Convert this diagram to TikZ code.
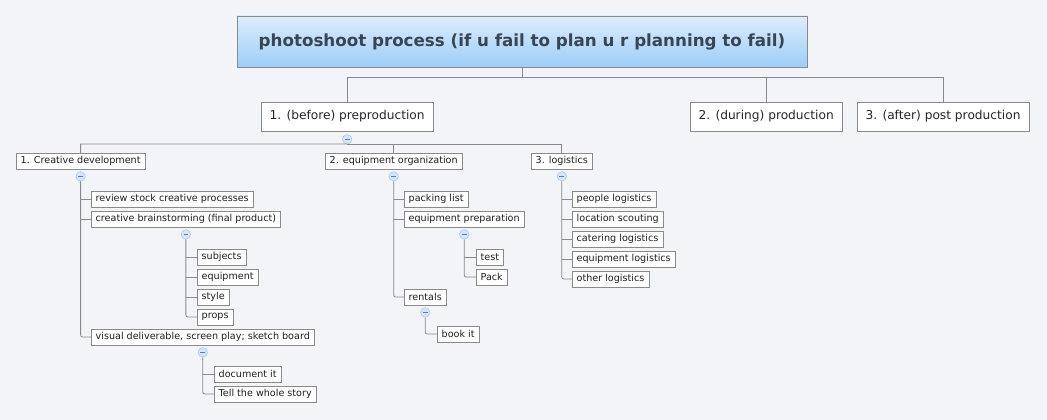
\documentclass[tikz,border=0pt]{standalone}
\usepackage{fontspec}
\setmainfont{DejaVu Sans}
\usetikzlibrary{positioning}
\definecolor{bg}{HTML}{F3F4F8}
\definecolor{edge}{HTML}{8A8A8A}
\definecolor{rootink}{HTML}{3A4552}
\definecolor{roottop}{HTML}{DCEDFC}
\definecolor{rootbot}{HTML}{9DCDF8}
\definecolor{foldfill}{HTML}{D5E6F8}
\definecolor{foldline}{HTML}{9DC1E8}

\begin{document}
\begin{tikzpicture}[x=1pt,y=-1pt,
  root/.style={draw=edge,top color=roottop,bottom color=rootbot,text=rootink,
    font=\fontsize{16.7}{20}\selectfont\bfseries,minimum width=570pt,minimum height=51pt},
  topic/.style={draw=edge,fill=white,text=black!85,font=\fontsize{12.2}{14}\selectfont,
    inner xsep=8.5pt,inner ysep=0pt,minimum height=29.5pt,anchor=west},
  sub/.style={draw=edge,fill=white!96!bg,text=black!88,font=\fontsize{9.6}{11}\selectfont,
    inner xsep=4.5pt,inner ysep=0pt,minimum height=15.5pt,anchor=west},
  fold/.style={circle,draw=foldline,fill=foldfill,inner sep=0pt,minimum size=9.5pt,
    path picture={\draw[foldline!60!blue,line width=0.7pt]
      ([xshift=2.4pt]path picture bounding box.west) -- ([xshift=-2.4pt]path picture bounding box.east);}},
  bar/.style={draw=edge,line width=0.8pt},
  link/.style={draw=edge,line width=0.8pt,rounded corners=2pt}]

\fill[bg] (0,0) rectangle (1047,420);
\useasboundingbox (0,0) rectangle (1047,420);

% main topic and the three phases
\node[root] (root) at (522,41.5) {photoshoot process (if u fail to plan u r planning to fail)};
\node[topic] (pre) at (261,116.5) {1. (before) preproduction};
\node[topic] (dur) at (690,116.5) {2. (during) production};
\node[topic] (post) at (857,116.5) {3. (after) post production};
\coordinate (h) at (522,77);
\draw[bar] (root) -- (h) -| (pre.north);
\draw[bar] (h) -| (dur.north);
\draw[bar] (h) -| (post.north);

% preproduction
\node[fold,below=3pt of pre] (f0) {};
\node[sub] (cd) at (16,161) {1. Creative development};
\node[sub] (eq) at (325,161) {2. equipment organization};
\node[sub] (lg) at (531,161) {3. logistics};
\coordinate (h0) at (347,144);
\draw[bar] (f0) -- (h0) -| (cd.north);
\draw[bar] (h0) -| (eq.north);
\draw[bar] (h0) -| (lg.north);

% creative development
\node[fold,below=2.5pt of cd] (f1) {};
\node[sub] (rv) at (91,199) {review stock creative processes};
\node[sub] (cb) at (91,219) {creative brainstorming (final product)};
\node[sub] (vd) at (91,337) {visual deliverable, screen play; sketch board};
\draw[link] (f1) |- (vd.west);
\foreach \n in {rv,cb}
  \draw[bar] (f1|-\n.west) -- (\n.west);

\node[fold,below=2.5pt of cb] (f11) {};
\node[sub] (sj) at (197,257) {subjects};
\node[sub] (eqp) at (197,277) {equipment};
\node[sub] (st) at (197,297) {style};
\node[sub] (pr) at (197,317) {props};
\draw[link] (f11) |- (pr.west);
\foreach \n in {sj,eqp,st}
  \draw[bar] (f11|-\n.west) -- (\n.west);

\node[fold,below=2.5pt of vd] (f12) {};
\node[sub] (doc) at (214,374) {document it};
\node[sub] (tell) at (214,394) {Tell the whole story};
\draw[link] (f12) |- (tell.west);
\draw[bar] (f12|-doc.west) -- (doc.west);

% equipment organization
\node[fold,below=2.5pt of eq] (f2) {};
\node[sub] (pl) at (404,199) {packing list};
\node[sub] (ep) at (404,219) {equipment preparation};
\node[sub] (rt) at (404,297) {rentals};
\draw[link] (f2) |- (rt.west);
\foreach \n in {pl,ep}
  \draw[bar] (f2|-\n.west) -- (\n.west);

\node[fold,below=2.5pt of ep] (f21) {};
\node[sub] (ts) at (476,257) {test};
\node[sub] (pk) at (476,277) {Pack};
\draw[link] (f21) |- (pk.west);
\draw[bar] (f21|-ts.west) -- (ts.west);

\node[fold,below=2.5pt of rt] (f22) {};
\node[sub] (bk) at (437,334) {book it};
\draw[link] (f22) |- (bk.west);

% logistics
\node[fold,below=2.5pt of lg] (f3) {};
\node[sub] (l1) at (572,199) {people logistics};
\node[sub] (l2) at (572,219) {location scouting};
\node[sub] (l3) at (572,239) {catering logistics};
\node[sub] (l4) at (572,259) {equipment logistics};
\node[sub] (l5) at (572,279) {other logistics};
\draw[link] (f3) |- (l5.west);
\foreach \n in {l1,l2,l3,l4}
  \draw[bar] (f3|-\n.west) -- (\n.west);
\end{tikzpicture}
\end{document}
